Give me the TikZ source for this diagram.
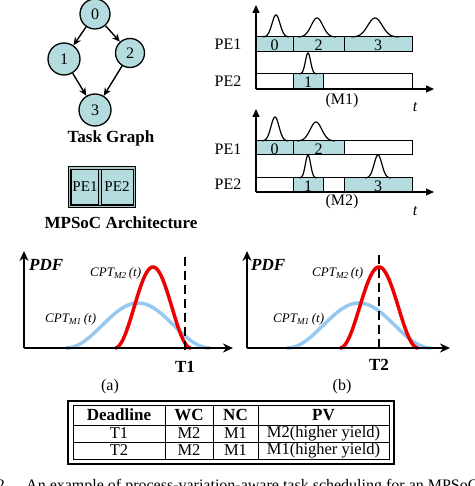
\documentclass[tikz,border=0pt]{standalone}
\usepackage{fontspec}
\setmainfont{Liberation Serif}
\usetikzlibrary{arrows.meta}
\definecolor{cy}{RGB}{180,220,222}
\definecolor{lb}{RGB}{150,200,240}
\definecolor{rd}{RGB}{238,0,0}
\tikzset{
 tnode/.style={circle, draw, line width=1.3pt, fill=cy, inner sep=0pt, font=\fontsize{16}{16}\selectfont},
 tedge/.style={-{Stealth[length=8pt,width=7pt]}, line width=1.4pt},
 seg/.style={draw, line width=1pt, fill=cy},
 eseg/.style={draw, line width=1pt, fill=white},
 lab/.style={font=\fontsize{16}{16}\selectfont, inner sep=0pt},
 blab/.style={font=\bfseries\fontsize{17}{17}\selectfont, inner sep=0pt},
 clab/.style={font=\itshape\fontsize{13}{13}\selectfont, inner sep=0pt, anchor=west},
 tlab/.style={font=\fontsize{16.5}{16.5}\selectfont, inner sep=0pt},
 thlab/.style={font=\bfseries\fontsize{17}{17}\selectfont, inner sep=0pt},
 gax/.style={line width=1.2pt, -{Triangle[length=8pt,width=7pt]}},
 pax/.style={line width=2.5pt, -{Stealth[length=10pt,width=9pt]}},
 bell/.style={line width=1.2pt},
 redc/.style={line width=3.5pt, rd},
 bluec/.style={line width=3.5pt, lb},
 dline/.style={line width=2.6pt, dash pattern=on 9pt off 5pt},
}
\newcommand\bellcurve[5][bell]{%
 \pgfmathsetmacro\bA{#2-3.3*#5}\pgfmathsetmacro\bB{#2+3.3*#5}%
 \draw[#1] plot[domain=\bA:\bB, samples=70, smooth] (\x,{#3-#4*exp(-((\x-#2)/#5)*((\x-#2)/#5)/2)});}
% raised cosine bump: [style]{centre}{base}{height}{half width}
\newcommand\cosbump[5][bell]{%
 \pgfmathsetmacro\bA{#2-#5}\pgfmathsetmacro\bB{#2+#5}%
 \draw[#1] plot[domain=\bA:\bB, samples=80, smooth] (\x,{#3-#4*(1+cos(180*(\x-#2)/#5))/2});}
\begin{document}
\begin{tikzpicture}[x=1pt,y=-1pt]
\useasboundingbox (0,0) rectangle (474,486);
% task graph
\node[tnode, minimum size=30pt] (n0) at (95,14) {0};
\node[tnode, minimum size=32pt] (n1) at (64,59) {1};
\node[tnode, minimum size=29pt] (n2) at (130,53) {2};
\node[tnode, minimum size=32pt] (n3) at (95,110) {3};
\draw[tedge] (n0) -- (n1);
\draw[tedge] (n0) -- (n2);
\draw[tedge] (n1) -- (n3);
\draw[tedge] (n2) -- (n3);
\node[blab] (tg) at (111,138) {Task Graph};
% MPSoC
\draw[line width=1pt, fill=cy!80!gray] (68,167) rectangle (135,207);
\draw[line width=0.8pt] (70,169) rectangle (133,205);
\node[draw, line width=1pt, fill=cy, minimum width=27pt, minimum height=34pt, inner sep=0pt, font=\fontsize{15}{15}\selectfont] (pe1) at (85,187) {PE1};
\node[draw, line width=1pt, fill=cy, minimum width=32pt, minimum height=34pt, inner sep=0pt, font=\fontsize{15}{15}\selectfont] (pe2) at (117,187) {PE2};
\node[blab] (arch) at (121,223) {MPSoC Architecture};
% Gantt M1
\draw[seg] (256,37) rectangle (293,52);
\draw[seg] (293,37) rectangle (344,52);
\draw[seg] (344,37) rectangle (412,52);
\draw[eseg] (256,74) rectangle (293,89);
\draw[seg] (293,74) rectangle (323,89);
\draw[eseg] (323,74) rectangle (412,89);
\node[lab] at (274.5,45.5) {0};
\node[lab] at (318.5,45.5) {2};
\node[lab] at (378,45.5) {3};
\node[lab] at (308,82.5) {1};
\bellcurve{276}{37}{22}{4}
\bellcurve{317}{37}{19}{5.8}
\bellcurve{375}{37}{19}{7.2}
\bellcurve{308}{74}{21}{2.6}
\coordinate (o1) at (256,89);
\coordinate (y1) at (256,5);
\coordinate (x1) at (434,89);
\draw[gax] (o1) -- (y1);
\draw[gax] (o1) -- (x1);
\node[lab] at (228,44) {PE1};
\node[lab] at (228,81) {PE2};
\node[lab] at (342,101) {(M1)};
\node[lab, font=\itshape\fontsize{16}{16}\selectfont] at (415,107) {t};
% Gantt M2
\draw[seg] (256,141) rectangle (293,155);
\draw[seg] (293,141) rectangle (344,155);
\draw[eseg] (344,141) rectangle (412,155);
\draw[eseg] (256,178) rectangle (293,192);
\draw[seg] (293,178) rectangle (323,192);
\draw[eseg] (323,178) rectangle (344,192);
\draw[seg] (344,178) rectangle (412,192);
\node[lab] at (274.5,149) {0};
\node[lab] at (318.5,149) {2};
\node[lab] at (308,186) {1};
\node[lab] at (378,186) {3};
\bellcurve{275}{141}{24}{4}
\bellcurve{316}{141}{19}{5.8}
\bellcurve{308}{178}{23}{2.6}
\bellcurve{378}{178}{23}{3.9}
\coordinate (o2) at (256,192);
\coordinate (y2) at (256,109);
\coordinate (x2) at (434,192);
\draw[gax] (o2) -- (y2);
\draw[gax] (o2) -- (x2);
\node[lab] at (228,149) {PE1};
\node[lab] at (228,184) {PE2};
\node[lab] at (342,202) {(M2)};
\node[lab, font=\itshape\fontsize{16}{16}\selectfont] at (415,211) {t};
% PDF (a)
\cosbump[bluec]{138}{348}{45}{72}
\cosbump[redc]{153}{348}{81}{38}
\coordinate (oa) at (24,348);
\coordinate (ya) at (24,251);
\coordinate (xa) at (233,348);
\draw[pax] (oa) -- (ya);
\draw[pax] (oa) -- (xa);
\coordinate (da1) at (185,257);
\coordinate (da2) at (185,352);
\draw[dline] (da1) -- (da2);
\node[font=\bfseries\itshape\fontsize{17}{17}\selectfont, inner sep=0pt, anchor=west] at (29,265) {PDF};
\node[clab] at (90,273) {CPT\textsubscript{M2}\,(t)};
\node[clab] at (45,319) {CPT\textsubscript{M1}\,(t)};
\node[blab] at (185,367) {T1};
\node[lab] at (110,387) {(a)};
% PDF (b)
\cosbump[bluec]{359}{348}{45}{72}
\cosbump[redc]{379}{348}{81}{39}
\coordinate (ob) at (247,348);
\coordinate (yb) at (247,251);
\coordinate (xb) at (450,348);
\draw[pax] (ob) -- (yb);
\draw[pax] (ob) -- (xb);
\coordinate (db1) at (379,255);
\coordinate (db2) at (379,352);
\draw[dline] (db1) -- (db2);
\node[font=\bfseries\itshape\fontsize{17}{17}\selectfont, inner sep=0pt, anchor=west] at (251,265) {PDF};
\node[clab] at (312,273) {CPT\textsubscript{M2}\,(t)};
\node[clab] at (273,319) {CPT\textsubscript{M1}\,(t)};
\node[blab] at (379,365) {T2};
\node[lab] at (342,387) {(b)};
% table
\draw[line width=2pt] (68,401) rectangle (394,464);
\draw[line width=0.9pt] (73,405) rectangle (389,459);
\draw[line width=0.9pt] (73,425) -- (389,425);
\draw[line width=0.9pt] (73,442) -- (389,442);
\draw[line width=0.9pt] (165,405) -- (165,459);
\draw[line width=0.9pt] (213,405) -- (213,459);
\draw[line width=0.9pt] (258,405) -- (258,459);
\node[thlab] at (119,415) {Deadline};
\node[thlab] at (189,415) {WC};
\node[thlab] at (235.5,415) {NC};
\node[thlab] at (323.5,415) {PV};
\node[tlab] at (119,433.5) {T1};
\node[tlab] at (189,433.5) {M2};
\node[tlab] at (235.5,433.5) {M1};
\node[tlab] at (323.5,433.5) {M2(higher yield)};
\node[tlab] at (119,450.5) {T2};
\node[tlab] at (189,450.5) {M2};
\node[tlab] at (235.5,450.5) {M1};
\node[tlab] at (323.5,450.5) {M1(higher yield)};
% caption (cut off at the lower edge, as in the reference)
\begin{scope}
\clip (0,0) rectangle (474,486);
\node[font=\fontsize{16}{16}\selectfont, inner sep=0pt, anchor=base east] at (5,490) {2};
\node[font=\fontsize{16}{16}\selectfont, inner sep=0pt, anchor=base west] at (26,490) {An example of process-variation-aware task scheduling for an MPSoC};
\end{scope}
\end{tikzpicture}
\end{document}
